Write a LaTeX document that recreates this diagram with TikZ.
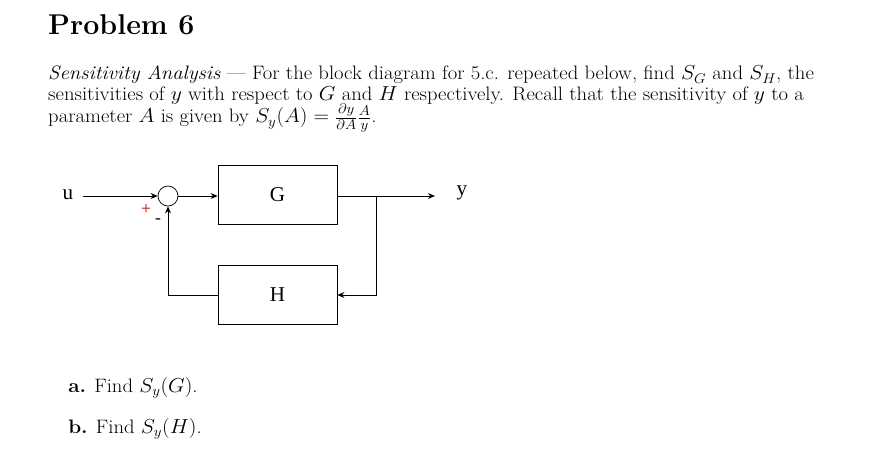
\documentclass[tikz,border=0pt]{standalone}
\usepackage{amsmath}
\usepackage{fontspec}
\newfontfamily\tms{Liberation Serif}
\usetikzlibrary{arrows.meta}
\begin{document}
\begin{tikzpicture}[x=0.03cm,y=-0.03cm,
  blk/.style={draw,line width=0.6pt,minimum width=119*0.03cm,minimum height=59*0.03cm,inner sep=0pt,font=\tms\fontsize{18}{20}\selectfont},
  wire/.style={line width=0.6pt},
  arr/.style={wire,-{Stealth[length=6pt,width=5pt]}},
  txt/.style={anchor=base west,inner sep=0pt,xscale=1.063,font=\fontsize{16.6}{20}\selectfont}]
\useasboundingbox (0,0) rectangle (869,458);
\node[anchor=base west,inner sep=0pt,font=\bfseries\fontsize{24.4}{28}\selectfont] (title) at (48,35) {Problem 6};
\node[txt] (l1) at (48,80) {\textit{Sensitivity Analysis} --- For the block diagram for 5.c. repeated below, find $S_G$ and $S_H$, the};
\node[txt] (l2) at (48,101) {sensitivities of $y$ with respect to $G$ and $H$ respectively. Recall that the sensitivity of $y$ to a};
\node[txt] (l3) at (48,123) {parameter $A$ is given by $S_y(A)=\frac{\partial y}{\partial A}\frac{A}{y}$.};
\node[inner sep=1pt,font=\tms\fontsize{18}{20}\selectfont] (u) at (68,195) {u};
\node[draw,circle,minimum size=20*0.03cm,inner sep=0pt,line width=0.6pt] (s) at (168,196) {};
\node[blk] (G) at (277.5,194.5) {G};
\node[blk] (H) at (277.5,294.5) {H};
\node[inner sep=1pt,font=\tms\fontsize{18}{20}\selectfont] (y) at (462,193) {y};
\coordinate (br) at (376,196);
\coordinate (yo) at (435,196);
\coordinate (hr) at (376,295);
\coordinate (hl) at (168,295);
\draw[arr] (83,196) -- (s.west);
\draw[arr] (s.east) -- (G.west |- s.east);
\draw[arr] (G.east |- br) -- (yo);
\draw[arr] (br) -- (hr) -- (H.east |- hr);
\draw[arr] (H.west |- hl) -- (hl) -- (s.south);
\node[text=red!70!black,font=\tms\fontsize{15}{16}\selectfont,inner sep=0pt] (p) at (146,210) {+};
\node[font=\tms\fontsize{15}{16}\selectfont,inner sep=0pt] (m) at (158,221) {-};
\node[txt] (a) at (68,392) {\textbf{a.} Find $S_y(G)$.};
\node[txt] (b) at (68,433) {\textbf{b.} Find $S_y(H)$.};
\end{tikzpicture}
\end{document}
